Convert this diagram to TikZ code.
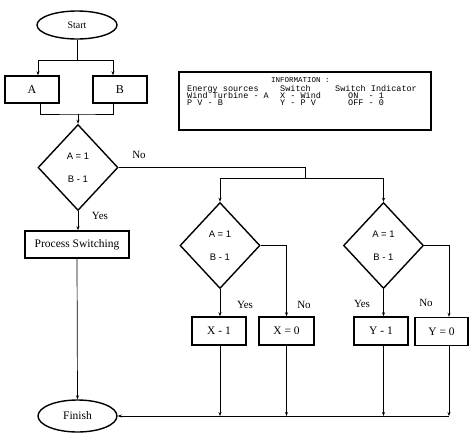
\documentclass[tikz,border=0pt]{standalone}
\usepackage{fontspec}
\setmainfont{Liberation Serif}
\setsansfont{Liberation Sans}
\setmonofont{Liberation Mono}
\usetikzlibrary{shapes.geometric,arrows.meta,calc}
\begin{document}
\begin{tikzpicture}[x=1pt,y=-1pt,
 term/.style={ellipse,draw,line width=1.4pt,inner sep=0pt},
 procbox/.style={rectangle,draw,line width=1.4pt,inner sep=0pt,font=\fontsize{11.5}{13}\selectfont},
 decision/.style={diamond,draw,line width=1.4pt,inner sep=0pt,minimum width=80pt,minimum height=86pt,align=center,font=\sffamily\fontsize{9.5}{11}\selectfont},
 conn/.style={line width=0.7pt},
 arr/.style={conn,-{Stealth[length=4pt,width=3pt]}},
 lbl/.style={font=\fontsize{11}{13}\selectfont,inner sep=0pt},
 info/.style={font=\ttfamily\fontsize{8.5}{9}\selectfont,anchor=base west,inner sep=0pt}
]
\useasboundingbox (0,0) rectangle (474,437);

% top part
\node[term,minimum width=80pt,minimum height=28pt,font=\fontsize{10}{12}\selectfont] (start) at (77,25) {Start};
\node[procbox,minimum width=54pt,minimum height=27pt,font=\fontsize{12}{14}\selectfont] (A) at (32,89.5) {A};
\node[procbox,minimum width=54pt,minimum height=27pt,font=\fontsize{12}{14}\selectfont] (B) at (120,89.5) {B};
\coordinate (split) at (77,60);
\coordinate (join) at (78,114);
\draw[conn] (start) -- (split);
\draw[arr] (split) -| ([xshift=6pt]A.north);
\draw[arr] (split) -| ([xshift=-7pt]B.north);
\draw[conn] ([xshift=8pt]A.south) |- (join) -| ([xshift=-7pt]B.south);

\node[decision] (d1) at (78,167.5) {A = 1\\[12pt]B - 1};
\draw[arr] (join) -- (d1.north);
\node[lbl] (yes1) at (100,216) {Yes};
\node[lbl] (no1) at (139,155) {No};

\node[procbox,minimum width=104pt,minimum height=27pt] (proc) at (77,244.5) {Process Switching};
\draw[arr] (d1.south) -- (d1.south |- proc.north);

\node[term,minimum width=79pt,minimum height=32pt,font=\fontsize{11.5}{13}\selectfont] (finish) at (77.5,416) {Finish};
\draw[arr] (proc.south) -- (finish.north);

% info box
\node[draw,line width=1.4pt,minimum width=252pt,minimum height=58pt,inner sep=0pt] (infobox) at (305,101) {};
\node[info,font=\ttfamily\fontsize{7.5}{9}\selectfont] (inft) at (271,82) {INFORMATION :};
\node[info] (c11) at (187,91) {Energy sources};
\node[info] (c12) at (280,91) {Switch};
\node[info] (c13) at (335,91) {Switch Indicator};
\node[info] (c21) at (187,98.3) {Wind Turbine - A};
\node[info] (c22) at (280,98.3) {X - Wind};
\node[info] (c23) at (348,98.3) {ON~~-~1};
\node[info] (c31) at (187,105.7) {P V - B};
\node[info] (c32) at (280,105.7) {Y - P V};
\node[info] (c33) at (348,105.7) {OFF - 0};

% right branch
\coordinate (r1) at (305,167.5);
\coordinate (r2) at (305,178);
\coordinate (bl) at (220,178);
\coordinate (br) at (383.5,178);
\draw[conn] (d1.east) -- (r1) -- (r2);
\draw[conn] (bl) -- (br);

\node[decision] (d2) at (220,245.5) {A = 1\\[12pt]B - 1};
\node[decision] (d3) at (383.5,245.5) {A = 1\\[12pt]B - 1};
\draw[arr] (bl) -- (d2.north);
\draw[arr] (br) -- (d3.north);

\node[procbox,minimum width=54pt,minimum height=28pt] (X1) at (219,331) {X - 1};
\node[procbox,minimum width=55pt,minimum height=28pt] (X0) at (286.5,331) {X = 0};
\node[procbox,minimum width=54pt,minimum height=28pt] (Y1) at (381,331) {Y - 1};
\node[procbox,minimum width=53pt,minimum height=28pt] (Y0) at (441.5,331.5) {Y = 0};

\draw[arr] (d2.south) -- (d2.south |- X1.north);
\draw[arr] (d2.east) -| (X0.north);
\draw[arr] (d3.south) -- (d3.south |- Y1.north);
\draw[arr] (d3.east) -| ([xshift=7.5pt]Y0.north);

\node[lbl] (yes2) at (245,305) {Yes};
\node[lbl] (no2) at (304,305) {No};
\node[lbl] (yes3) at (362,304) {Yes};
\node[lbl] (no3) at (426,303) {No};

% bottom bus
\draw[arr] (d2.south |- X1.south) -- (d2.south |- finish.east);
\draw[arr] (X0.south) -- (X0.south |- finish.east);
\draw[arr] (d3.south |- Y1.south) -- (d3.south |- finish.east);
\draw[arr] ([xshift=7.5pt]Y0.south) -- ([xshift=7.5pt]Y0.south |- finish.east);
\draw[arr] ([xshift=7.5pt]Y0.south |- finish.east) -- (finish.east);
\end{tikzpicture}
\end{document}
